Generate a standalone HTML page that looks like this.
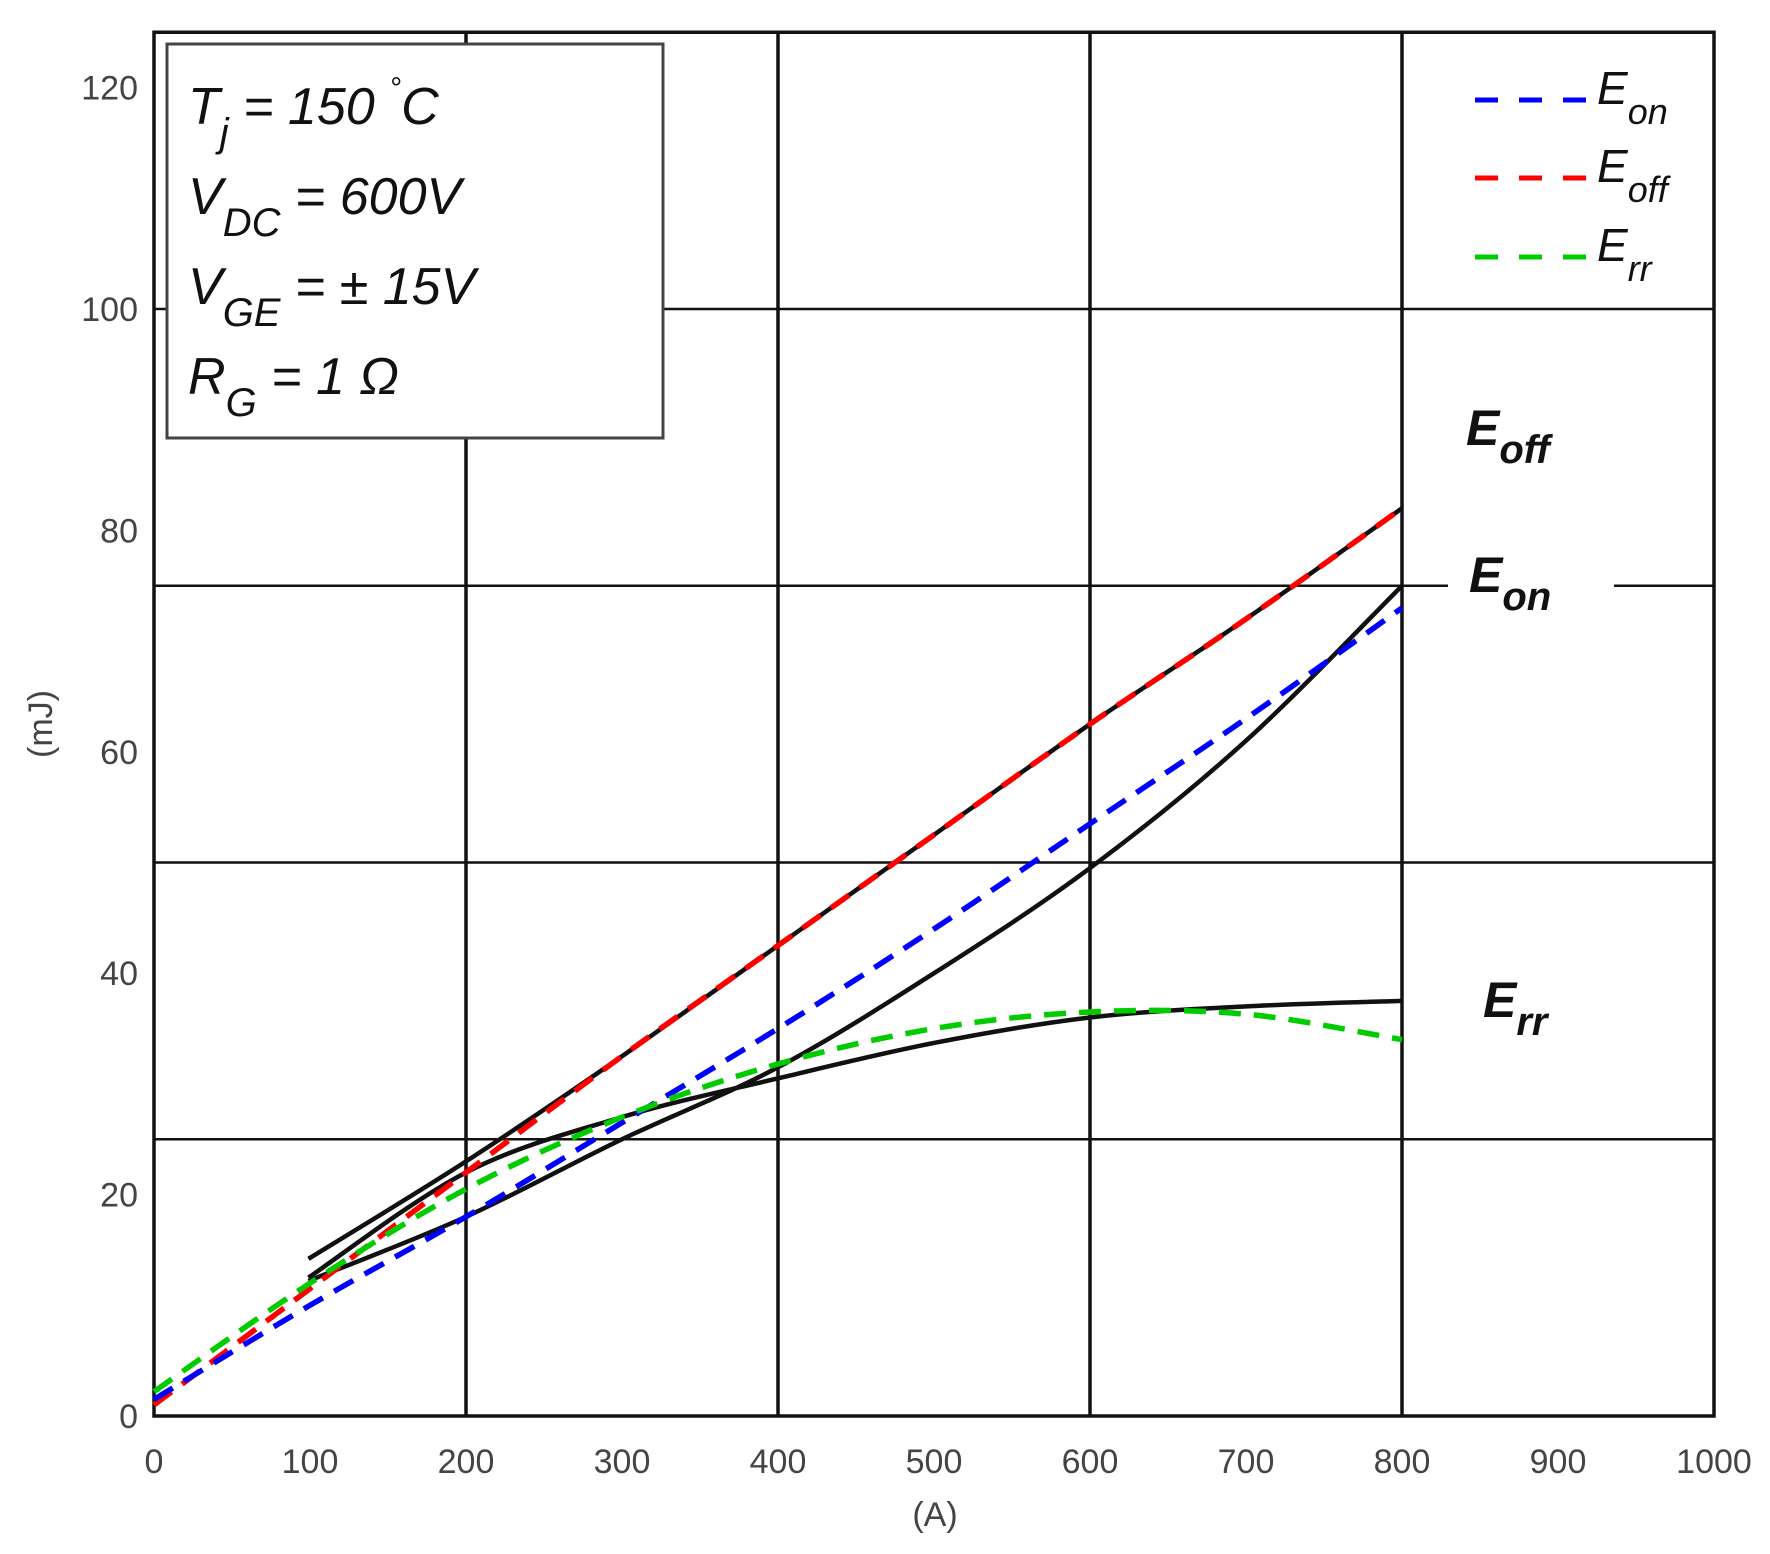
<!DOCTYPE html>
<html><head><meta charset="utf-8"><style>
html,body{margin:0;padding:0;background:#fff;}
svg{display:block;}
.t{font-family:"Liberation Sans",sans-serif;fill:#444;font-size:34px;}
.i{font-family:"Liberation Sans",sans-serif;font-style:italic;fill:#111;}
.b{font-family:"Liberation Sans",sans-serif;font-style:italic;font-weight:bold;fill:#111;}
</style></head><body>
<svg id="s" width="1770" height="1554" viewBox="0 0 1770 1554" xmlns="http://www.w3.org/2000/svg">
<rect width="1770" height="1554" fill="#fff"/>
<g id="grid" stroke="#111" fill="none"></g>
<g id="curves" fill="none" stroke-linejoin="round" stroke-linecap="butt"></g>
<rect x="167" y="44" width="496" height="394" fill="#fff" stroke="#444" stroke-width="3"/>
<text class="i" x="188" y="124" font-size="52">T<tspan font-size="40" dy="22">j</tspan><tspan dy="-22"> = 150 </tspan><tspan font-size="30" dy="-26">°</tspan><tspan dy="26">C</tspan></text>
<text class="i" x="188" y="214" font-size="52">V<tspan font-size="40" dy="22">DC</tspan><tspan dy="-22"> = 600V</tspan></text>
<text class="i" x="188" y="304" font-size="52">V<tspan font-size="40" dy="22">GE</tspan><tspan dy="-22"> = ± 15V</tspan></text>
<text class="i" x="188" y="394" font-size="52">R<tspan font-size="40" dy="22">G</tspan><tspan dy="-22"> = 1 Ω</tspan></text>
<g stroke-width="5" stroke-dasharray="23,21">
<line x1="1475" y1="100" x2="1590" y2="100" stroke="#0000ff"/>
<line x1="1475" y1="178" x2="1590" y2="178" stroke="#ff0000"/>
<line x1="1475" y1="257" x2="1590" y2="257" stroke="#00cc00"/>
</g>
<text class="i" x="1597" y="104" font-size="46">E<tspan font-size="36" dy="20">on</tspan></text>
<text class="i" x="1597" y="182" font-size="46">E<tspan font-size="36" dy="20">off</tspan></text>
<text class="i" x="1597" y="261" font-size="46">E<tspan font-size="36" dy="20">rr</tspan></text>
<text class="b" x="1466" y="445" font-size="50">E<tspan font-size="40" dy="18">off</tspan></text>
<text class="b" x="1469" y="592" font-size="50">E<tspan font-size="40" dy="18">on</tspan></text>
<text class="b" x="1483" y="1017" font-size="50">E<tspan font-size="40" dy="18">rr</tspan></text>
<g id="ticks"></g>
<text class="t" x="935" y="1526" text-anchor="middle" font-size="37">(A)</text>
<text class="t" transform="translate(52,724) rotate(-90)" text-anchor="middle" font-size="37">(mJ)</text>
</svg>
<script>
const X=a=>154+a*1.56, Y=m=>1416-m*11.07;
const NS="http://www.w3.org/2000/svg";
function el(p,tag,at,txt){const e=document.createElementNS(NS,tag);for(const k in at)e.setAttribute(k,at[k]);if(txt!==undefined)e.textContent=txt;document.getElementById(p).appendChild(e);return e;}
[200,400,600,800].forEach(a=>el("grid","line",{x1:X(a),y1:Y(125),x2:X(a),y2:Y(0),"stroke-width":3.5}));
[25,50,100].forEach(m=>el("grid","line",{x1:X(0),y1:Y(m),x2:X(1000),y2:Y(m),"stroke-width":2.5}));
el("grid","line",{x1:X(0),y1:Y(75),x2:1448,y2:Y(75),"stroke-width":2.5});
el("grid","line",{x1:1614,y1:Y(75),x2:X(1000),y2:Y(75),"stroke-width":2.5});
el("grid","rect",{x:X(0),y:Y(125),width:X(1000)-X(0),height:Y(0)-Y(125),"stroke-width":3.5});
for(let a=0;a<=1000;a+=100)el("ticks","text",{class:"t",x:X(a),y:1473,"text-anchor":"middle"},String(a));
for(let m=0;m<=120;m+=20)el("ticks","text",{class:"t",x:138,y:Y(m)+12,"text-anchor":"end"},String(m));
function path(pts){
  const P=pts.map(p=>[X(p[0]),Y(p[1])]);let d="M"+P[0][0]+","+P[0][1];
  for(let i=0;i<P.length-1;i++){const p0=P[i-1]||P[i],p1=P[i],p2=P[i+1],p3=P[i+2]||P[i+1];
    d+=` C${p1[0]+(p2[0]-p0[0])/6},${p1[1]+(p2[1]-p0[1])/6} ${p2[0]-(p3[0]-p1[0])/6},${p2[1]-(p3[1]-p1[1])/6} ${p2[0]},${p2[1]}`;}
  return d;}
function curve(pts,color,dash){el("curves","path",{d:path(pts),stroke:color,"stroke-width":dash?5.5:4.5,"stroke-dasharray":dash?"22,13":"none"});}
curve([[99,14.2],[200,23],[300,32.5],[400,42.5],[500,52.5],[600,62.5],[700,72],[800,82]],"#111",false);
curve([[99,12.2],[200,18],[300,25],[400,31.5],[500,40],[600,49.5],[700,61],[800,75]],"#111",false);
curve([[99,12.5],[200,22],[300,27],[400,30.5],[500,33.7],[600,36],[700,37],[800,37.5]],"#111",false);
curve([[0,1],[100,11.5],[200,22],[300,32.5],[400,42.5],[500,52.5],[600,62.5],[700,72],[800,82]],"#ff0000",true);
curve([[0,1.5],[100,10],[200,18],[300,26.5],[400,35],[500,44],[600,53.5],[700,63],[800,73]],"#0000ff",true);
curve([[0,2.2],[100,12],[200,20.5],[300,27],[400,31.8],[500,35],[600,36.5],[700,36.3],[800,34]],"#00cc00",true);
</script>
</body></html>
